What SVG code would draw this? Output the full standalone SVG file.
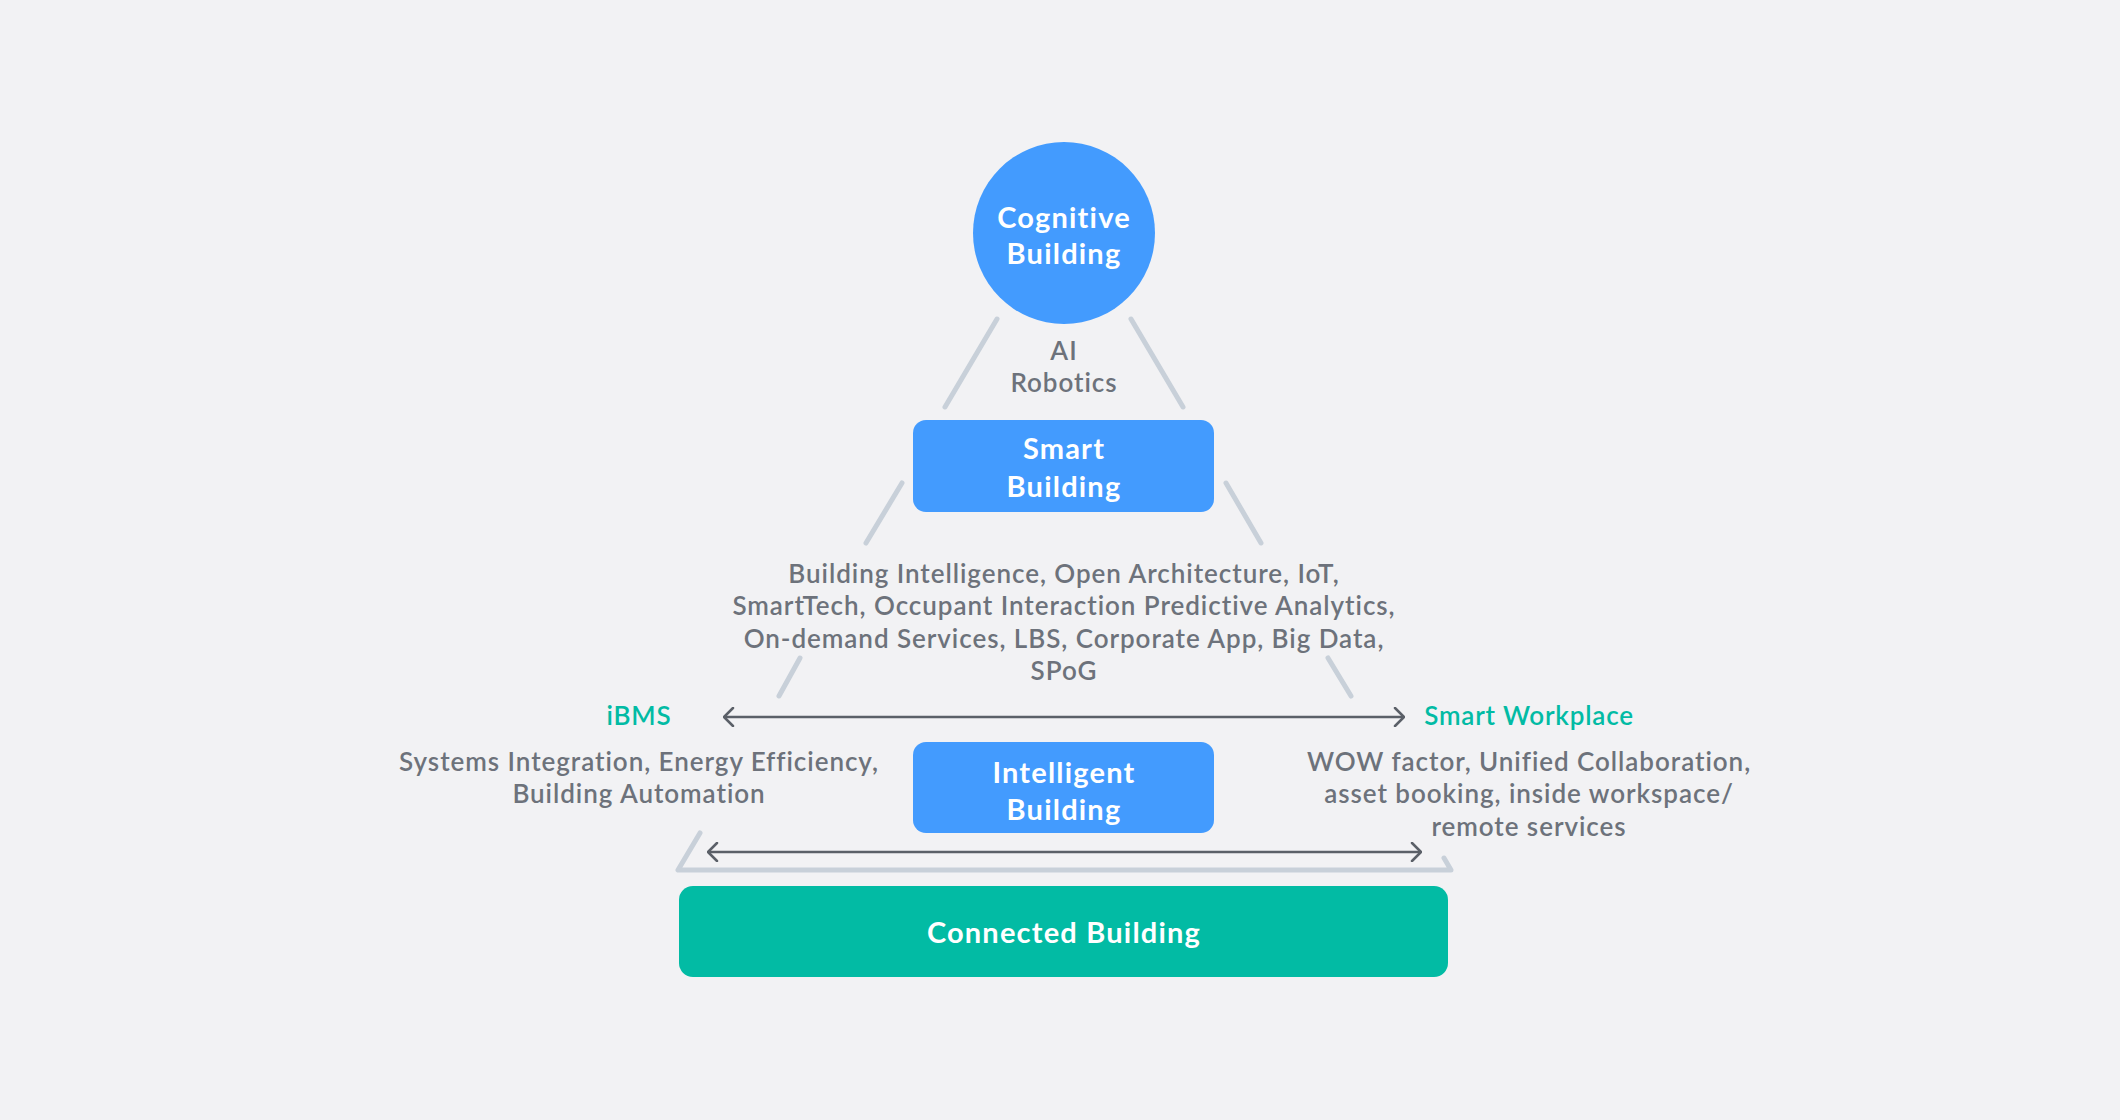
<svg xmlns="http://www.w3.org/2000/svg" width="2120" height="1120" viewBox="0 0 2120 1120">
  <defs>
    <style>
      .bg { fill: #F2F2F4; }
      .blue { fill: #439BFE; }
      .teal { fill: #02BBA4; }
      .wlabel { font-family: Lato, "Liberation Sans", sans-serif; font-weight: 700; font-size: 29px; letter-spacing: 1.2px; fill: #FFFFFF; text-anchor: middle; }
      .glabel { font-family: Lato, "Liberation Sans", sans-serif; font-weight: 600; font-size: 26px; letter-spacing: 0.95px; fill: #6D727B; text-anchor: middle; }
      .tlabel { font-family: Lato, "Liberation Sans", sans-serif; font-weight: 600; font-size: 26px; letter-spacing: 0.8px; fill: #02BBA4; text-anchor: middle; }
      .tie { fill: none; stroke: #C8D0D9; stroke-width: 5; stroke-linecap: round; stroke-linejoin: round; }
      .arrow { fill: none; stroke: #5B6068; stroke-width: 2.5; marker-start: url(#chev); marker-end: url(#chev); }
    </style>
    <marker id="chev" viewBox="0 0 12 20" refX="11" refY="10" markerWidth="12" markerHeight="20" markerUnits="userSpaceOnUse" orient="auto-start-reverse">
      <path d="M2,1 L11,10 L2,19" fill="none" stroke="#5B6068" stroke-width="2.5" stroke-linecap="round" stroke-linejoin="round"/>
    </marker>
  </defs>

  <rect class="bg" x="0" y="0" width="2120" height="1120"/>

  <g id="connectors">
    <line class="tie" x1="997" y1="319" x2="945" y2="407"/>
    <line class="tie" x1="1131" y1="319" x2="1183" y2="407"/>
    <line class="tie" x1="902" y1="483" x2="866" y2="543"/>
    <line class="tie" x1="1226" y1="483" x2="1261" y2="543"/>
    <line class="tie" x1="800" y1="658" x2="779" y2="696"/>
    <line class="tie" x1="1328" y1="658" x2="1351" y2="696"/>
    <polyline class="tie" points="700,833 678,870 1451,870 1444,858"/>
    <line class="arrow" x1="724" y1="717" x2="1404" y2="717"/>
    <line class="arrow" x1="708" y1="852" x2="1421" y2="852"/>
  </g>

  <g id="cognitive-building">
    <circle class="blue" cx="1064" cy="233" r="91"/>
    <text class="wlabel" x="1064" y="228">Cognitive</text>
    <text class="wlabel" x="1064" y="264">Building</text>
  </g>

  <g id="ai-robotics">
    <text class="glabel" x="1064" y="360">AI</text>
    <text class="glabel" x="1064" y="392">Robotics</text>
  </g>

  <g id="smart-building">
    <rect class="blue" x="913" y="420" width="301" height="92" rx="13"/>
    <text class="wlabel" x="1064" y="459">Smart</text>
    <text class="wlabel" x="1064" y="497">Building</text>
  </g>

  <g id="smart-tech">
    <text class="glabel" x="1064" y="583">Building Intelligence, Open Architecture, IoT,</text>
    <text class="glabel" x="1064" y="615">SmartTech, Occupant Interaction Predictive Analytics,</text>
    <text class="glabel" x="1064" y="648">On-demand Services, LBS, Corporate App, Big Data,</text>
    <text class="glabel" x="1064" y="680">SPoG</text>
  </g>

  <g id="ibms">
    <text class="tlabel" x="639" y="725">iBMS</text>
    <text class="glabel" x="639" y="771">Systems Integration, Energy Efficiency,</text>
    <text class="glabel" x="639" y="803">Building Automation</text>
  </g>

  <g id="smart-workplace">
    <text class="tlabel" x="1529" y="725">Smart Workplace</text>
    <text class="glabel" x="1529" y="771">WOW factor, Unified Collaboration,</text>
    <text class="glabel" x="1529" y="803">asset booking, inside workspace/</text>
    <text class="glabel" x="1529" y="836">remote services</text>
  </g>

  <g id="intelligent-building">
    <rect class="blue" x="913" y="742" width="301" height="91" rx="13"/>
    <text class="wlabel" x="1064" y="783">Intelligent</text>
    <text class="wlabel" x="1064" y="820">Building</text>
  </g>

  <g id="connected-building">
    <rect class="teal" x="679" y="886" width="769" height="91" rx="14"/>
    <text class="wlabel" x="1064" y="943">Connected Building</text>
  </g>
</svg>
